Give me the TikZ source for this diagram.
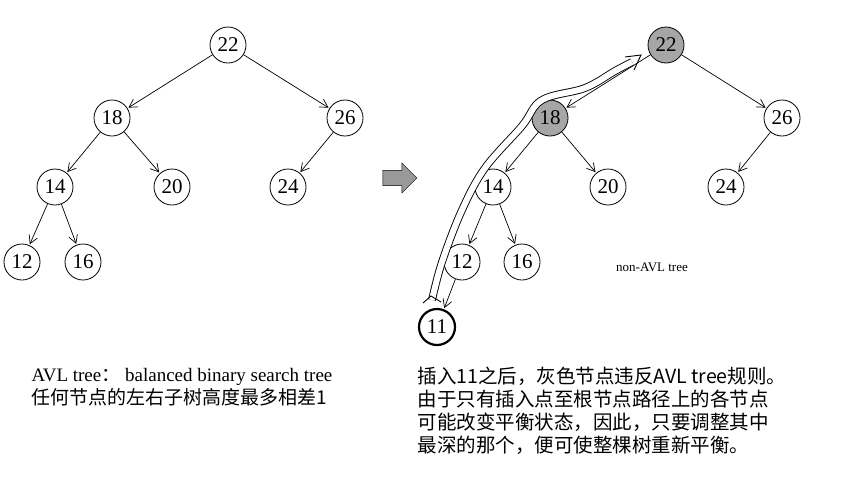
\documentclass[tikz,border=0pt]{standalone}
\usepackage{fontspec}
\setmainfont{Liberation Serif}
\newfontfamily\cjk{Noto Sans CJK SC}
\usetikzlibrary{arrows.meta,shapes.arrows}
\begin{document}
\begin{tikzpicture}[x=1pt,y=-1pt,
  nd/.style={circle,draw,line width=0.8pt,minimum size=36pt,inner sep=0pt,font=\fontsize{21}{21}\selectfont},
  gr/.style={nd,fill=black!35},
  ed/.style={-{Straight Barb[length=8pt,width=9pt]},line width=0.7pt,shorten >=1pt}]
\useasboundingbox (0,0) rectangle (845,477);
% left tree
\node[nd] (a22) at (228,45) {22};
\node[nd] (a18) at (112,118) {18};
\node[nd] (a26) at (345,118) {26};
\node[nd] (a14) at (55,187) {14};
\node[nd] (a20) at (172,187) {20};
\node[nd] (a24) at (288,187) {24};
\node[nd] (a12) at (22,262) {12};
\node[nd] (a16) at (83,262) {16};
\foreach \p/\c in {a22/a18,a22/a26,a18/a14,a18/a20,a26/a24,a14/a12,a14/a16} \draw[ed] (\p) -- (\c);
% right tree
\node[gr] (b22) at (666,45) {22};
\node[gr] (b18) at (550,118) {18};
\node[nd] (b26) at (782,118) {26};
\node[nd] (b14) at (493,187) {14};
\node[nd] (b20) at (608,187) {20};
\node[nd] (b24) at (726,187) {24};
\node[nd] (b12) at (462,262) {12};
\node[nd] (b16) at (522,262) {16};
\node[nd,line width=2.2pt] (b11) at (437,327) {11};
\foreach \p/\c in {b22/b18,b22/b26,b18/b14,b18/b20,b26/b24,b14/b12,b14/b16,b12/b11} \draw[ed] (\p) -- (\c);
% path
\draw[double,double distance=6pt,line width=0.9pt] plot[smooth,tension=0.6] coordinates {(432,300) (442,262) (462,210) (485,168) (522,126) (542,100) (585,88) (615,71) (632,62)};
\draw[line width=0.9pt] (625,57) -- (641,55) -- (634,70);
\draw[line width=0.9pt] (423,303) -- (431,296) -- (441,302);
% block arrow
\node[single arrow,draw,fill=black!40,minimum height=34pt,minimum width=30pt,single arrow head extend=4pt,inner sep=4pt] (arr) at (396,178) {};
\node[font=\fontsize{13}{13}\selectfont] (na) at (652,267) {non-AVL tree};
\node[anchor=north west,align=left,font=\fontsize{19}{23}\selectfont] (ca) at (28,365) {AVL tree{\cjk ：} balanced binary search tree\\{\cjk\fontsize{19}{23}\selectfont 任何节点的左右子树高度最多相差1}};
\node[anchor=north west,align=left,font=\cjk\fontsize{19.5}{23}\selectfont] (cb) at (414,363) {插入11之后，灰色节点违反AVL tree规则。\\由于只有插入点至根节点路径上的各节点\\可能改变平衡状态，因此，只要调整其中\\最深的那个，便可使整棵树重新平衡。};
\end{tikzpicture}
\end{document}
